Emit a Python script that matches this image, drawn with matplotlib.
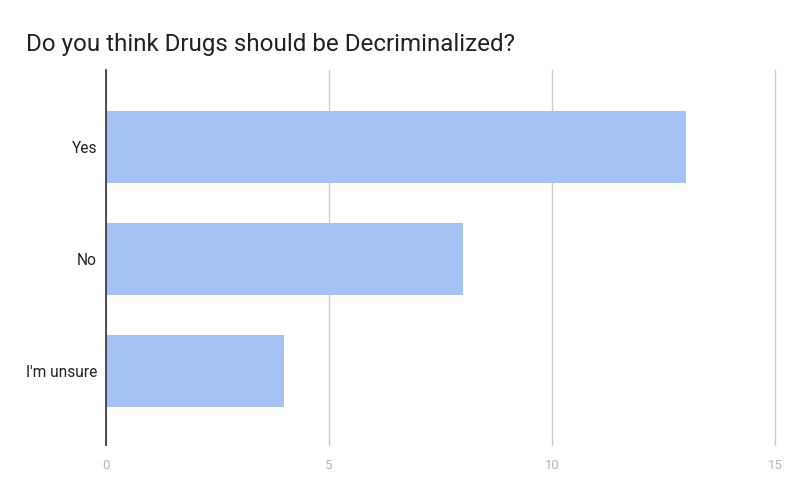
import matplotlib.pyplot as plt

plt.rcParams['font.family'] = ['Roboto', 'DejaVu Sans']

answers = ['Yes', 'No', "I'm unsure"]
counts = [13, 8, 4]
ticks = [0, 5, 10, 15]

fig = plt.figure(figsize=(8, 4.94), dpi=100)
ax = fig.add_axes([0.1325, 0.0992, 0.83625, 0.7591])

ax.barh(range(len(answers)), counts, height=0.643, color='#a4c2f4', zorder=3)

ax.set_xlim(0, 15)
ax.set_ylim(2.66, -0.6875)
ax.set_xticks(ticks)
ax.set_xticklabels([str(t) for t in ticks], color='#b7b7b7', fontsize=9.5)
ax.set_yticks(range(len(answers)))
ax.set_yticklabels(answers, color='#222222', fontsize=11.2)
ax.tick_params(axis='both', length=0)
ax.tick_params(axis='x', pad=10)
ax.tick_params(axis='y', pad=6.5)

ax.grid(axis='x', color='#cccccc', linewidth=1, zorder=0)
for gl in ax.get_xgridlines():
    gl.set_clip_on(False)
for s in ['top', 'right', 'bottom']:
    ax.spines[s].set_visible(False)
ax.spines['left'].set_color('#333333')
ax.spines['left'].set_linewidth(1.2)
ax.spines['left'].set_zorder(4)

fig.text(0.0325, 0.91, 'Do you think Drugs should be Decriminalized?',
         fontsize=17.4, color='#222222', va='center', ha='left')

fig.savefig('out.png', dpi=100)
